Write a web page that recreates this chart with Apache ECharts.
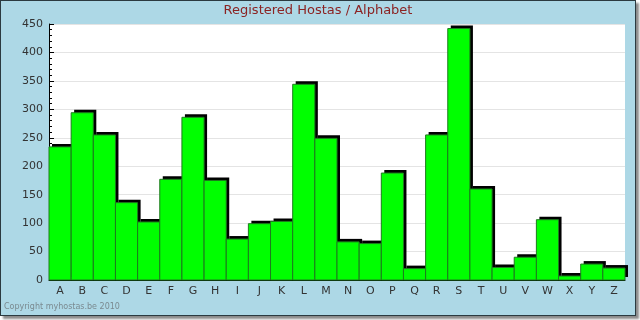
<!DOCTYPE html>
<html>
<head>
<meta charset="utf-8">
<script src="https://cdn.jsdelivr.net/npm/echarts@6/dist/echarts.min.js"></script>
<style>
html,body{margin:0;padding:0;background:#fff;}
#chart{position:absolute;left:0;top:0;width:634px;height:314px;border:1px solid #2b3a40;box-shadow:3px 3px 2px rgba(0,0,0,0.45);background:#add8e6;}
</style>
</head>
<body>
<div id="chart"></div>
<script>
var categories = ['A','B','C','D','E','F','G','H','I','J','K','L','M','N','O','P','Q','R','S','T','U','V','W','X','Y','Z'];
var counts = [234,294,255,136,102,177,286,175,72,99,103,344,249,67,64,188,20,255,442,160,22,40,106,7,28,21];
var yTicks = {min:0, max:450, step:50};
var titleText = 'Registered Hostas / Alphabet';
var copyrightText = 'Copyright myhostas.be 2010';

var chart = echarts.init(document.getElementById('chart'), null, {renderer:'canvas'});
function renderBar(params, api){
  var idx = api.value(0), v = api.value(1);
  var top = api.coord([idx, v]);
  var base = api.coord([idx, 0]);
  var w = api.size([1, 0])[0];
  var x0 = top[0] - w / 2;
  var h = base[1] - top[1];
  return {type:'group', children:[
    {type:'rect', shape:{x:x0 + 3, y:top[1] - 3, width:w, height:h}, style:{fill:'#000'}},
    {type:'rect', shape:{x:x0, y:top[1], width:w, height:h}, style:{fill:'#00ff00', stroke:'#1f7a1f', lineWidth:1}}
  ]};
}
chart.setOption({
  animation:false,
  backgroundColor:'#add8e6',
  title:{text:titleText,left:'center',top:-2,textStyle:{fontFamily:'DejaVu Sans',fontSize:13,fontWeight:'normal',color:'#8b2323'}},
  graphic:[{type:'text',left:3,top:302,style:{text:copyrightText,fontFamily:'DejaVu Sans',fontSize:8,fill:'#7a8a90'}}],
  grid:{left:48,top:23,width:576,height:256,show:true,backgroundColor:'#ffffff',borderWidth:0,containLabel:false},
  xAxis:{type:'category',data:categories,
    axisLine:{lineStyle:{color:'#000',width:1}},
    axisTick:{show:false},
    axisLabel:{fontFamily:'DejaVu Sans',fontSize:11,color:'#333',margin:6},
    splitLine:{show:false}},
  yAxis:{type:'value',min:yTicks.min,max:yTicks.max,interval:yTicks.step,
    axisLine:{show:true,lineStyle:{color:'#000',width:1}},
    axisTick:{show:true,inside:true,length:5,lineStyle:{color:'#000'}},
    minorTick:{show:true,splitNumber:5,length:3,lineStyle:{color:'#000'}},
    axisLabel:{fontFamily:'DejaVu Sans',fontSize:11,color:'#333',margin:6},
    splitLine:{show:true,lineStyle:{color:'#e4e4e4',width:1}}},
  series:[{type:'custom',renderItem:renderBar,clip:false,
    encode:{x:0,y:1},
    data:counts.map(function(v,i){return [i,v];})}]
});
</script>
</body>
</html>
